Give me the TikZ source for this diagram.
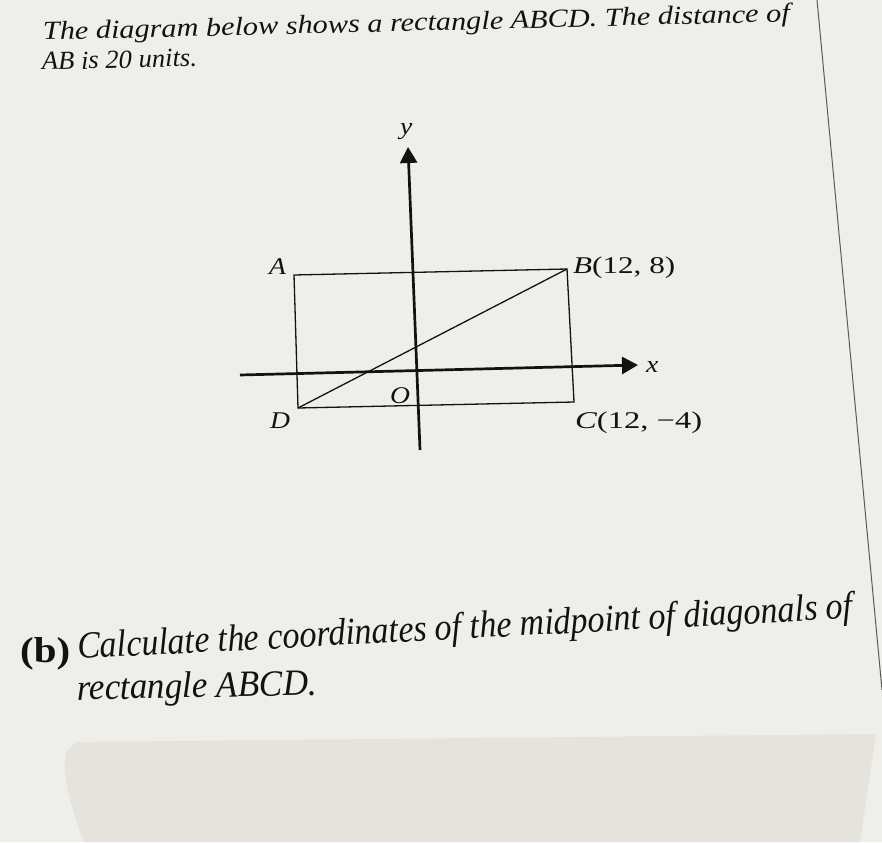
\documentclass[tikz,border=0pt]{standalone}
\usepackage{fontspec}
\setmainfont{Liberation Serif}[FakeStretch=1.15]
\usepackage{graphicx}
\usetikzlibrary{arrows.meta}
\definecolor{carta}{RGB}{238,238,235}
\definecolor{ombra}{RGB}{229,227,220}
\definecolor{inchiostro}{RGB}{18,18,18}
\tikzstyle{asse} = [line width=2.7pt, draw=inchiostro, -{Triangle[length=16pt,width=17pt]}]
\tikzstyle{lato} = [line width=1.3pt, draw=inchiostro]
\tikzstyle{etichetta} = [inner sep=0pt, anchor=base west, text=inchiostro, font=\fontsize{24}{28}\selectfont]
\tikzstyle{riga} = [inner sep=0pt, anchor=base west, text=inchiostro]
\newcommand{\largo}[2]{\resizebox{#1}{\height}{#2}}

\begin{document}
\begin{tikzpicture}[x=1pt,y=-1pt]
	\useasboundingbox (0,0) rectangle (882,842);
	\fill[carta] (0,0) rectangle (882,842);
	\fill[ombra] (84,842) .. controls (68,800) and (62,770) .. (66,752) -- (76,742) -- (876,734) -- (860,842) -- cycle;
	\coordinate (p1) at (817,0);
	\coordinate (p2) at (882,690);
	\draw[line width=1pt, draw=gray!70!black] (p1) -- (p2);
	\node (t1) at (43,40) [riga, rotate=1.4, font=\itshape\fontsize{26}{30}\selectfont] {\largo{747pt}{The diagram below shows a rectangle ABCD. The distance of}};
	\node (t2) at (42,70) [riga, rotate=1.4, font=\itshape\fontsize{26}{30}\selectfont] {\largo{155pt}{AB is 20 units.}};
	\coordinate (yb) at (420,450);
	\coordinate (yt) at (408,147);
	\coordinate (xl) at (240,375);
	\coordinate (xr) at (638,365);
	\coordinate (A) at (294,275);
	\coordinate (B) at (567,269);
	\coordinate (C) at (574,402);
	\coordinate (D) at (298,408);
	\draw[lato] (A) -- (B) -- (C) -- (D) -- cycle;
	\draw[lato] (D) -- (B);
	\draw[asse] (yb) -- (yt);
	\draw[asse] (xl) -- (xr);
	\node (ly) at (400,135) [etichetta] {\itshape y};
	\node (lx) at (646,372) [etichetta] {\itshape x};
	\node (lo) at (390,403) [etichetta] {\itshape O};
	\node (la) at (269,274) [etichetta] {\itshape A};
	\node (lb) at (573,273) [etichetta] {\largo{102pt}{{\itshape B}(12, 8)}};
	\node (lc) at (575,428) [etichetta] {\largo{127pt}{{\itshape C}(12, −4)}};
	\node (ld) at (270,428) [etichetta] {\itshape D};
	\node (qb) at (20,662) [riga, font=\bfseries\fontsize{36}{40}\selectfont] {\largo{50pt}{(b)}};
	\node (q1) at (78,659) [riga, rotate=3, font=\itshape\fontsize{38}{44}\selectfont] {\largo{776pt}{Calculate the coordinates of the midpoint of diagonals of}};
	\node (q2) at (77,700) [riga, rotate=1.2, font=\itshape\fontsize{37}{44}\selectfont] {\largo{240pt}{rectangle ABCD.}};
\end{tikzpicture}
\end{document}
